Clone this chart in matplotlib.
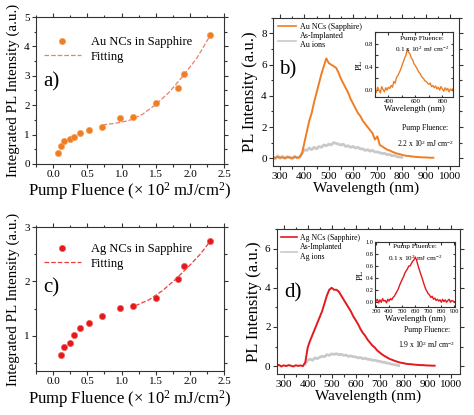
import matplotlib
matplotlib.use("Agg")
import matplotlib.pyplot as plt
import numpy as np
from matplotlib.lines import Line2D
from matplotlib.ticker import MultipleLocator

plt.rcParams['font.family'] = ['Liberation Serif', 'DejaVu Serif']
plt.rcParams['mathtext.fontset'] = 'custom'
plt.rcParams['mathtext.rm'] = 'Liberation Serif'
plt.rcParams['mathtext.it'] = 'Liberation Serif:italic'

# ---- panel a: Au integrated PL ----
au_fluence = [0.07, 0.11, 0.16, 0.25, 0.30, 0.39, 0.53, 0.72, 0.98, 1.17, 1.51, 1.82, 1.91, 2.29]
au_int = [0.38, 0.62, 0.78, 0.86, 0.91, 1.04, 1.17, 1.24, 1.57, 1.60, 2.09, 2.60, 3.05, 4.40]
au_fit_x = [0.72, 0.90, 1.10, 1.30, 1.50, 1.70, 1.90, 2.10, 2.29]
au_fit_y = [1.33, 1.38, 1.47, 1.68, 2.02, 2.45, 3.00, 3.60, 4.35]

# ---- panel c: Ag integrated PL ----
ag_fluence = [0.11, 0.16, 0.25, 0.30, 0.39, 0.53, 0.72, 0.98, 1.17, 1.51, 1.82, 1.91, 2.29]
ag_int = [0.64, 0.80, 0.86, 1.02, 1.14, 1.24, 1.37, 1.51, 1.54, 1.70, 2.05, 2.29, 2.75]
ag_fit_x = [1.20, 1.40, 1.60, 1.80, 2.00, 2.15, 2.29]
ag_fit_y = [1.55, 1.66, 1.83, 2.05, 2.30, 2.50, 2.73]

# ---- panel b: Au spectra ----
wl_main = np.arange(270, 931, 10)
au_nc = [0.05, 0.02, 0.08, 0.03, 0.06, 0.0, 0.07, 0.04, 0.02, 0.08, 0.03, 0.05,
         0.3, 1.0, 1.7, 2.4, 2.9, 3.6, 4.2, 4.8, 5.4, 5.9, 6.4, 6.1, 6.0, 5.9, 5.8,
         5.5, 5.1, 4.8, 4.5, 4.2, 3.8, 3.5, 3.2, 2.9, 2.7, 2.4, 2.2, 2.0, 1.8, 1.6,
         1.2, 1.4, 0.85, 0.75, 0.65, 0.55, 0.5, 0.42, 0.36, 0.3, 0.27, 0.22, 0.18,
         0.15, 0.14, 0.11, 0.1, 0.08, 0.07, 0.06, 0.05, 0.05, 0.04, 0.03, 0.03]
wl_au_imp = np.arange(270, 801, 10)
au_imp = [0.1, -0.05, 0.15, 0.0, 0.12, -0.02, 0.1, 0.05, -0.05, 0.12, 0.02, 0.08,
          0.3, 0.55, 0.5, 0.65, 0.55, 0.7, 0.6, 0.75, 0.7, 0.85, 0.8, 0.9, 0.85, 1.0,
          0.95, 0.9, 0.85, 0.9, 0.75, 0.8, 0.7, 0.75, 0.65, 0.7, 0.6, 0.6, 0.5, 0.55,
          0.45, 0.5, 0.4, 0.4, 0.35, 0.3, 0.32, 0.22, 0.25, 0.15, 0.18, 0.1, 0.08, 0.05]
wl_au_ins = np.arange(300, 881, 10)
au_ins = [0.02, -0.04, 0.05, 0.0, -0.05, 0.06, 0.01, -0.03, 0.04, 0.0, 0.05, 0.03,
          0.08, 0.05, 0.15, 0.12, 0.22, 0.25, 0.3, 0.35, 0.42, 0.48, 0.55, 0.6, 0.7,
          0.65, 0.62, 0.55, 0.52, 0.45, 0.42, 0.38, 0.33, 0.3, 0.26, 0.22, 0.2, 0.16,
          0.15, 0.12, 0.1, 0.12, 0.06, 0.08, 0.04, 0.07, 0.02, 0.05, 0.0, 0.06, 0.02,
          -0.02, 0.04, 0.0, 0.03, -0.03, 0.02, 0.0, 0.03]

# ---- panel d: Ag spectra ----
ag_nc = [0.02, 0.06, -0.02, 0.04, 0.0, 0.05, 0.02, -0.02, 0.04, 0.01, 0.03, 0.0,
         0.2, 0.95, 1.3, 1.6, 1.9, 2.2, 2.5, 2.8, 3.2, 3.6, 3.9, 4.0, 3.9, 3.9, 3.8,
         3.6, 3.4, 3.2, 3.0, 2.8, 2.55, 2.35, 2.15, 1.9, 1.7, 1.55, 1.35, 1.2, 1.05,
         0.95, 0.8, 0.7, 0.6, 0.52, 0.45, 0.38, 0.33, 0.28, 0.24, 0.2, 0.17, 0.15,
         0.12, 0.1, 0.1, 0.08, 0.07, 0.06, 0.05, 0.05, 0.04, 0.03, 0.03, 0.02, 0.02]
wl_ag_imp = np.arange(390, 781, 10)
ag_imp = [0.1, 0.3, 0.35, 0.3, 0.42, 0.38, 0.45, 0.5, 0.48, 0.58, 0.55, 0.62, 0.6,
          0.63, 0.58, 0.6, 0.55, 0.56, 0.5, 0.52, 0.48, 0.47, 0.42, 0.44, 0.38, 0.4,
          0.35, 0.34, 0.3, 0.3, 0.26, 0.25, 0.2, 0.2, 0.15, 0.14, 0.1, 0.08, 0.05, 0.03]
wl_ag_ins = np.arange(300, 901, 10)
ag_ins = [0.02, 0.05, -0.01, 0.04, 0.0, 0.06, 0.02, 0.03, -0.01, 0.05, 0.02, 0.06, 0.04,
          0.08, 0.1, 0.14, 0.18, 0.22, 0.28, 0.33, 0.38, 0.42, 0.48, 0.52, 0.55, 0.6,
          0.6, 0.64, 0.68, 0.7, 0.75, 0.7, 0.62, 0.55, 0.48, 0.42, 0.35, 0.28, 0.22,
          0.18, 0.14, 0.12, 0.08, 0.1, 0.05, 0.07, 0.03, 0.05, 0.02, 0.04, 0.0, 0.05,
          0.01, 0.04, 0.0, 0.03, 0.05, 0.0, 0.03, 0.02, 0.01]

orange = '#f07d22'
red = '#e3191c'
grey = '#c9c9c9'
frame = '#333333'


def style(ax, size=8, minor_x=None, minor_y=None):
    ax.tick_params(which='both', direction='out', top=True, right=True,
                   labelsize=size, color=frame, width=0.8, length=3, pad=1.5)
    ax.tick_params(which='minor', length=1.8)
    if minor_x:
        ax.xaxis.set_minor_locator(MultipleLocator(minor_x))
    if minor_y:
        ax.yaxis.set_minor_locator(MultipleLocator(minor_y))
    for s in ax.spines.values():
        s.set_color(frame)
        s.set_linewidth(0.8)


fig = plt.figure(figsize=(4.74, 4.15), dpi=100)

# panel a
ax = fig.add_axes([0.076, 0.605, 0.397, 0.354])
ax.plot(au_fit_x, au_fit_y, '--', color='#e8806a', lw=0.9)
ax.plot(au_fluence, au_int, 'o', ms=4.5, color=orange, mec='#f5a060', mew=0.5)
ax.set_xlim(-0.25, 2.5)
ax.set_ylim(0, 5)
ax.xaxis.set_major_locator(MultipleLocator(0.5))
ax.yaxis.set_major_locator(MultipleLocator(1))
style(ax, 8, 0.25, 0.5)
ax.set_xlabel(r'Pump Fluence ($\times$ 10$^2$ mJ/cm$^2$)', fontsize=12, labelpad=1)
ax.set_ylabel('Integrated PL Intensity (a.u.)', fontsize=10.8, labelpad=3)
ax.text(0.04, 0.56, 'a)', transform=ax.transAxes, fontsize=15, va='center')
h = [Line2D([], [], ls='', marker='o', ms=4.5, color=orange, mec='#f5a060', mew=0.5),
     Line2D([], [], ls='--', color='#e8806a', lw=0.9)]
ax.legend(h, ['Au NCs in Sapphire', 'Fitting'], loc='upper left', frameon=False,
          fontsize=9, bbox_to_anchor=(0.0, 0.92), handlelength=3, borderaxespad=0.2,
          labelspacing=0.2)

# panel b
ax = fig.add_axes([0.576, 0.600, 0.392, 0.357])
ax.plot(wl_au_imp, au_imp, color=grey, lw=2.0)
ax.plot(wl_main, au_nc, color=orange, lw=1.4)
ax.set_xlim(271, 1035)
ax.set_ylim(-0.5, 9.0)
ax.xaxis.set_major_locator(MultipleLocator(100))
ax.yaxis.set_major_locator(MultipleLocator(2))
style(ax, 8, 50, 1)
ax.set_xlabel('Wavelength (nm)', fontsize=11, labelpad=0)
ax.set_ylabel('PL Intensity (a.u.)', fontsize=12, labelpad=2)
ax.text(0.03, 0.65, 'b)', transform=ax.transAxes, fontsize=15, va='center')
ax.legend([Line2D([], [], color=orange, lw=1.2), Line2D([], [], color=grey, lw=1.2)],
          ['Au NCs (Sapphire)', 'As-Implanted\nAu ions'], loc='upper left',
          frameon=False, fontsize=5.8, handlelength=2.3, borderaxespad=0.2,
          labelspacing=0.2, handletextpad=0.4)
ax.text(0.82, 0.2, 'Pump Fluence:\n2.2 x 10$^2$ mJ cm$^{-2}$', transform=ax.transAxes,
        fontsize=5.5, ha='center', va='center', linespacing=1.6)

ins = fig.add_axes([0.791, 0.766, 0.165, 0.157])
ins.plot(wl_au_ins, au_ins, color=orange, lw=1.0)
ins.set_xlim(300, 880)
ins.set_ylim(-0.12, 1.0)
ins.xaxis.set_major_locator(MultipleLocator(200))
ins.yaxis.set_major_locator(MultipleLocator(0.4))
style(ins, 4.8, 100, 0.2)
ins.tick_params(which='both', direction='in', length=1.8)
ins.set_xlabel('Wavelength (nm)', fontsize=6.3, labelpad=0.5)
ins.set_ylabel('PL', fontsize=6.3, labelpad=0.5)
ins.text(0.6, 0.8, 'Pump Fluence:\n0.1 x 10$^2$ mJ cm$^{-2}$', transform=ins.transAxes,
         fontsize=5.2, ha='center', va='center', linespacing=1.6)

# panel c
ax = fig.add_axes([0.076, 0.106, 0.397, 0.347])
ax.plot(ag_fit_x, ag_fit_y, '--', color='#e64040', lw=0.9)
ax.plot(ag_fluence, ag_int, 'o', ms=4.5, color=red, mec='#f06060', mew=0.5)
ax.set_xlim(-0.25, 2.5)
ax.set_ylim(0.35, 3.0)
ax.xaxis.set_major_locator(MultipleLocator(0.5))
ax.yaxis.set_major_locator(MultipleLocator(1))
style(ax, 8, 0.25, 0.5)
ax.set_xlabel(r'Pump Fluence ($\times$ 10$^2$ mJ/cm$^2$)', fontsize=12, labelpad=1)
ax.set_ylabel('Integrated PL Intensity (a.u.)', fontsize=10.8, labelpad=3)
ax.text(0.04, 0.58, 'c)', transform=ax.transAxes, fontsize=15, va='center')
h = [Line2D([], [], ls='', marker='o', ms=4.5, color=red, mec='#f06060', mew=0.5),
     Line2D([], [], ls='--', color='#e64040', lw=0.9)]
ax.legend(h, ['Ag NCs in Sapphire', 'Fitting'], loc='upper left', frameon=False,
          fontsize=9, bbox_to_anchor=(0.0, 0.94), handlelength=3, borderaxespad=0.2,
          labelspacing=0.2)

# panel d
ax = fig.add_axes([0.584, 0.099, 0.386, 0.349])
ax.plot(wl_ag_imp, ag_imp, color=grey, lw=2.0)
ax.plot(wl_main, ag_nc, color=red, lw=1.4)
ax.set_xlim(271, 1035)
ax.set_ylim(-0.4, 7.0)
ax.xaxis.set_major_locator(MultipleLocator(100))
ax.yaxis.set_major_locator(MultipleLocator(2))
style(ax, 8, 50, 1)
ax.set_xlabel('Wavelength (nm)', fontsize=11, labelpad=0)
ax.set_ylabel('PL Intensity (a.u.)', fontsize=12, labelpad=2)
ax.text(0.04, 0.56, 'd)', transform=ax.transAxes, fontsize=15, va='center')
ax.legend([Line2D([], [], color=red, lw=1.2), Line2D([], [], color=grey, lw=1.2)],
          ['Ag NCs (Sapphire)', 'As-Implanted\nAg ions'], loc='upper left',
          frameon=False, fontsize=5.6, handlelength=2.0, borderaxespad=0.2,
          labelspacing=0.2, handletextpad=0.4)
ax.text(0.82, 0.25, 'Pump Fluence:\n1.9 x 10$^2$ mJ cm$^{-2}$', transform=ax.transAxes,
        fontsize=5.5, ha='center', va='center', linespacing=1.6)

ins = fig.add_axes([0.792, 0.260, 0.168, 0.157])
ins.plot(wl_ag_ins, ag_ins, color=red, lw=1.0)
ins.set_xlim(295, 905)
ins.set_ylim(-0.08, 1.0)
ins.xaxis.set_major_locator(MultipleLocator(100))
ins.yaxis.set_major_locator(MultipleLocator(0.2))
style(ins, 4.5)
ins.tick_params(which='both', direction='in', length=1.8)
ins.set_xlabel('Wavelength (nm)', fontsize=6.3, labelpad=0.5)
ins.set_ylabel('PL', fontsize=6.3, labelpad=0.5)
ins.text(0.5, 0.82, 'Pump Fluence:\n0.1 x 10$^2$ mJ cm$^{-2}$', transform=ins.transAxes,
         fontsize=5.2, ha='center', va='center', linespacing=1.6)

fig.savefig('out.png', dpi=100)
